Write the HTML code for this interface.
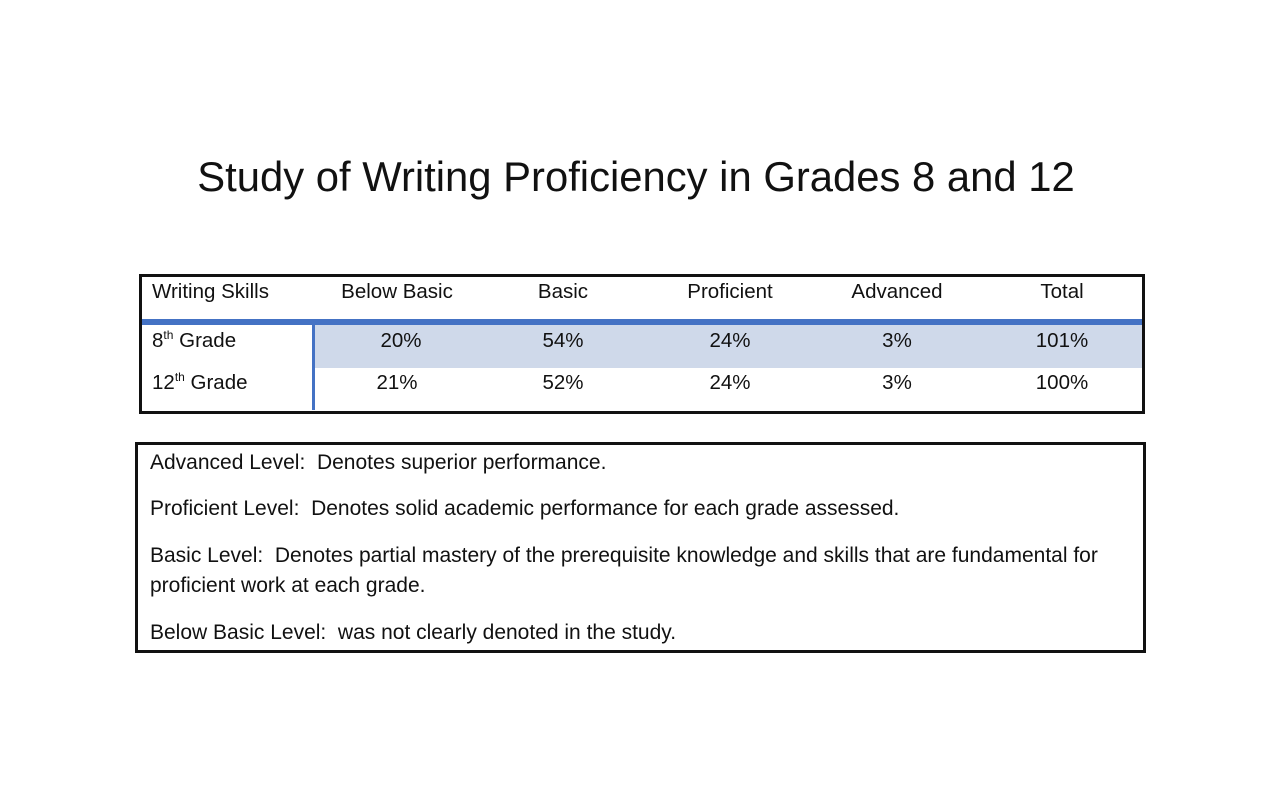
<!DOCTYPE html>
<html><head><meta charset="utf-8"><style>
body{margin:0;width:1274px;height:812px;background:#fff;position:relative;font-family:"Liberation Sans",sans-serif;color:#111;overflow:hidden}
.a{position:absolute;white-space:nowrap}
.c{transform:translateX(-50%)}
.t{font-size:20.5px}
.b{font-size:21px}
sup{font-size:12px;vertical-align:8px;line-height:0}
</style></head><body>
<div class="a c" style="left:636px;top:153px;font-size:41.8px">Study of Writing Proficiency in Grades 8 and 12</div>

<div class="a" style="left:139px;top:274px;width:1000px;height:134px;border:3px solid #111"></div>
<div class="a" style="left:142px;top:319px;width:1000px;height:6px;background:#4472c4"></div>
<div class="a" style="left:314px;top:325px;width:828px;height:43px;background:#cfd9ea"></div>
<div class="a" style="left:312px;top:325px;width:3px;height:85px;background:#4472c4"></div>

<div class="a t" style="left:152px;top:280px">Writing Skills</div>
<div class="a t c" style="left:397px;top:280px">Below Basic</div>
<div class="a t c" style="left:563px;top:280px">Basic</div>
<div class="a t c" style="left:730px;top:280px">Proficient</div>
<div class="a t c" style="left:897px;top:280px">Advanced</div>
<div class="a t c" style="left:1062px;top:280px">Total</div>

<div class="a t" style="left:152px;top:329px">8<sup>th</sup> Grade</div>
<div class="a t c" style="left:401px;top:329px">20%</div>
<div class="a t c" style="left:563px;top:329px">54%</div>
<div class="a t c" style="left:730px;top:329px">24%</div>
<div class="a t c" style="left:897px;top:329px">3%</div>
<div class="a t c" style="left:1062px;top:329px">101%</div>

<div class="a t" style="left:152px;top:371px">12<sup>th</sup> Grade</div>
<div class="a t c" style="left:397px;top:371px">21%</div>
<div class="a t c" style="left:563px;top:371px">52%</div>
<div class="a t c" style="left:730px;top:371px">24%</div>
<div class="a t c" style="left:897px;top:371px">3%</div>
<div class="a t c" style="left:1062px;top:371px">100%</div>

<div class="a" style="left:135px;top:442px;width:1005px;height:205px;border:3px solid #111"></div>
<div class="a b" style="left:150px;top:451px">Advanced Level:&nbsp; Denotes superior performance.</div>
<div class="a b" style="left:150px;top:497px">Proficient Level:&nbsp; Denotes solid academic performance for each grade assessed.</div>
<div class="a b" style="left:150px;top:544px">Basic Level:&nbsp; Denotes partial mastery of the prerequisite knowledge and skills that are fundamental for</div>
<div class="a b" style="left:150px;top:574px">proficient work at each grade.</div>
<div class="a b" style="left:150px;top:621px">Below Basic Level:&nbsp; was not clearly denoted in the study.</div>
</body></html>
